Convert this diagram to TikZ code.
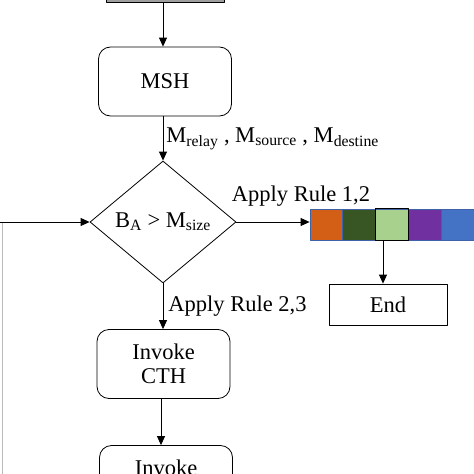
\documentclass[tikz,border=0pt]{standalone}
\usepackage{fontspec}
\setmainfont{Liberation Serif}
\usetikzlibrary{shapes.geometric,arrows.meta}
\definecolor{cOr}{HTML}{D35F16}
\definecolor{cDg}{HTML}{375623}
\definecolor{cLg}{HTML}{A9D18E}
\definecolor{cPu}{HTML}{7030A0}
\definecolor{cBl}{HTML}{4472C4}
\definecolor{cBd}{HTML}{3F62A8}
\begin{document}
\begin{tikzpicture}[x=1pt, y=-1pt, line width=0.8pt, line join=round,
    font=\fontsize{22.5}{25}\selectfont, >={Triangle[length=9pt,width=8pt]},
    rbox/.style={draw, rounded corners=12pt, minimum width=133pt, minimum height=69pt, align=center, inner sep=0pt},
    sbox/.style={draw, minimum width=118pt, minimum height=41pt, inner sep=0pt},
    dia/.style={draw, diamond, aspect=1.2, minimum width=146pt, minimum height=122pt, inner sep=0pt},
    cell/.style={draw=cBd, minimum width=32.8pt, minimum height=31pt, inner sep=0pt},
    lbl/.style={inner sep=3pt}]
    \useasboundingbox (0,0) rectangle (474,474);
    % boxes
    \node[sbox, fill=gray!75, minimum height=32pt] (Top) at (165,-14) {};
    \node[rbox] (MSH) at (165,81.5) {MSH};
    \node[dia] (D) at (163,222) {B\textsubscript{A} > M\textsubscript{size}};
    \foreach \c [count=\i] in {cOr,cDg,cLg,cPu,cBl}
        \node[cell, fill=\c] (c\i) at ({310+32.8*(\i-0.5)},224.5) {};
    \draw (c3.north west) rectangle (c3.south east);
    \node[sbox] (End) at (388,304.5) {End};
    \node[rbox] (CTH) at (163.5,364) {Invoke\\[-1pt]CTH};
    \node[rbox] (Inv) at (166,480) {Invoke\\[-1pt]\phantom{CTH}};
    \coordinate (loop) at (2,474);
    % arrows
    \draw[->] (Top.south -| D.north) -- (MSH.north -| D.north);
    \draw[->] (MSH.south -| D.north) -- (D.north)
        node[midway, right, lbl] {M\textsubscript{relay} , M\textsubscript{source} , M\textsubscript{destine}};
    \draw[->] (D.east) -- (c1.west |- D.east);
    \node[lbl] (r12) at (301,196) {Apply Rule 1,2};
    \draw[->] (D.south) -- (D.south |- CTH.north)
        node[midway, right, lbl, xshift=2pt] {Apply Rule 2,3};
    \draw[->] ([xshift=-9pt]c3.south) -- ([xshift=-9pt]c3.south |- End.north);
    \draw[->] (CTH.south -| 161,0) -- (Inv.north -| 161,0);
    \draw[gray!55, line width=1pt] (loop) -- (loop |- D.west);
    \draw[->] (0,0 |- D.west) -- (D.west);
\end{tikzpicture}
\end{document}
